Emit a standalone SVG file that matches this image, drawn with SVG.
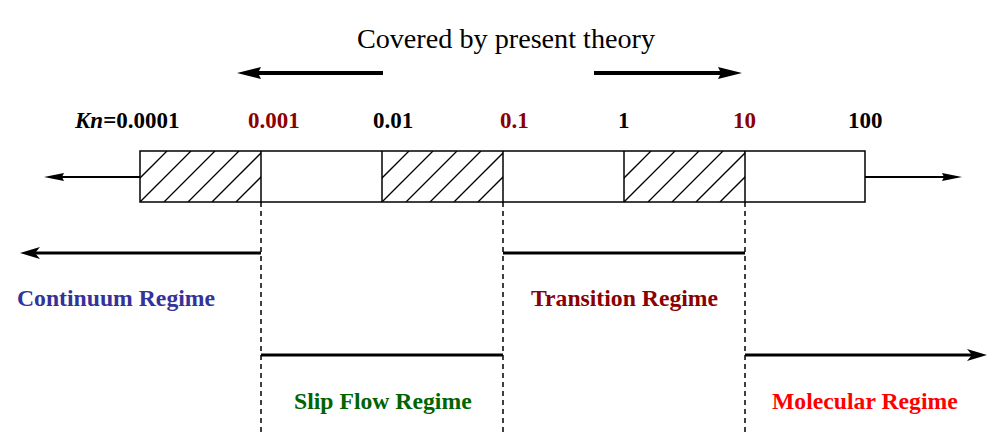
<svg xmlns="http://www.w3.org/2000/svg" xmlns:xlink="http://www.w3.org/1999/xlink" width="989" height="446" viewBox="0 0 989 446">
<style>
  .lbl{font-family:"Liberation Serif","Times New Roman",serif;font-weight:bold;font-size:23px}
  .reg{font-family:"Liberation Serif","Times New Roman",serif;font-weight:bold;font-size:23.7px}
  .title{font-family:"Liberation Serif","Times New Roman",serif;font-size:28.2px;fill:#000}
  .blk{fill:#000}
  .dred{fill:#8b0000}
  .box{fill:none;stroke:#000;stroke-width:1.5}
  .hatch{stroke:#000;stroke-width:1.3}
  .dash{stroke:#000;stroke-width:1.5;stroke-dasharray:5,4;fill:none}
  .thick{stroke:#000;stroke-width:4;fill:none}
  .reg-line{stroke:#000;stroke-width:3;fill:none}
  .side{stroke:#000;stroke-width:2;fill:none}
</style>
<defs>
  <marker id="bigArrow" markerUnits="userSpaceOnUse" markerWidth="24" markerHeight="14" refX="6" refY="7" orient="auto">
    <path d="M0,1 L24,7 L0,13 L3,7 Z" fill="#000"/>
  </marker>
  <marker id="sideArrow" markerUnits="userSpaceOnUse" markerWidth="20" markerHeight="10" refX="4" refY="5" orient="auto">
    <path d="M0,1 L20,5 L0,9 L2,5 Z" fill="#000"/>
  </marker>
  <marker id="stealth" markerUnits="userSpaceOnUse" markerWidth="20" markerHeight="14" refX="6" refY="7" orient="auto">
    <path d="M0,1 L20,7 L0,13 L5,7 Z" fill="#000"/>
  </marker>
  <clipPath id="boxclip" clipPathUnits="userSpaceOnUse">
    <rect x="140" y="151" width="121" height="51"/>
  </clipPath>
  <g id="hatch" clip-path="url(#boxclip)">
    <line class="hatch" x1="116" y1="202" x2="167" y2="151"/>
    <line class="hatch" x1="140" y1="202" x2="191" y2="151"/>
    <line class="hatch" x1="164" y1="202" x2="215" y2="151"/>
    <line class="hatch" x1="188" y1="202" x2="239" y2="151"/>
    <line class="hatch" x1="212" y1="202" x2="263" y2="151"/>
    <line class="hatch" x1="236" y1="202" x2="287" y2="151"/>
  </g>
</defs>
<rect width="989" height="446" fill="#fff"/>

<text class="title" x="506" y="48" text-anchor="middle">Covered by present theory</text>

<g id="scale-labels">
  <text class="lbl blk" x="75" y="128"><tspan font-style="italic">Kn</tspan>=0.0001</text>
  <text class="lbl dred" x="248" y="128">0.001</text>
  <text class="lbl blk" x="373" y="128">0.01</text>
  <text class="lbl dred" x="500" y="128">0.1</text>
  <text class="lbl blk" x="618" y="128">1</text>
  <text class="lbl dred" x="733" y="128">10</text>
  <text class="lbl blk" x="848" y="128">100</text>
</g>

<g id="scale-bar">
  <use xlink:href="#hatch" href="#hatch"/>
  <use xlink:href="#hatch" href="#hatch" x="242"/>
  <use xlink:href="#hatch" href="#hatch" x="484"/>
  <rect class="box" x="140" y="151" width="725" height="51"/>
  <line class="box" x1="261" y1="151" x2="261" y2="202"/>
  <line class="box" x1="382" y1="151" x2="382" y2="202"/>
  <line class="box" x1="503" y1="151" x2="503" y2="202"/>
  <line class="box" x1="624" y1="151" x2="624" y2="202"/>
  <line class="box" x1="745" y1="151" x2="745" y2="202"/>
</g>

<g id="connectors">
  <line class="thick" x1="383" y1="73" x2="255" y2="73" marker-end="url(#bigArrow)"/>
  <line class="thick" x1="594" y1="73" x2="724" y2="73" marker-end="url(#bigArrow)"/>
  <line class="side" x1="140" y1="177" x2="60" y2="177" marker-end="url(#sideArrow)"/>
  <line class="side" x1="865" y1="177" x2="946" y2="177" marker-end="url(#sideArrow)"/>
  <line class="dash" x1="261" y1="202" x2="261" y2="436"/>
  <line class="dash" x1="503" y1="202" x2="503" y2="436"/>
  <line class="dash" x1="745" y1="202" x2="745" y2="436"/>
  <line class="reg-line" x1="261" y1="253" x2="34" y2="253" marker-end="url(#stealth)"/>
  <line class="reg-line" x1="503" y1="253" x2="745" y2="253"/>
  <line class="reg-line" x1="261" y1="355" x2="503" y2="355"/>
  <line class="reg-line" x1="745" y1="355" x2="973" y2="355" marker-end="url(#stealth)"/>
</g>

<g id="continuum"><text class="reg" x="17" y="306" fill="#333399">Continuum Regime</text></g>
<g id="transition"><text class="reg" x="531" y="306" fill="#8b0000">Transition Regime</text></g>
<g id="slip"><text class="reg" x="294" y="409" fill="#006400">Slip Flow Regime</text></g>
<g id="molecular"><text class="reg" x="772" y="409" fill="#ff0000">Molecular Regime</text></g>
</svg>
